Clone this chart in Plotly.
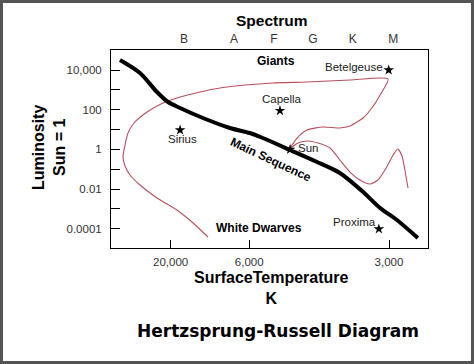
import math
import plotly.graph_objects as go

# ---- data (x: schematic temperature position 0-100, hot on the left; y: luminosity, Sun = 1) ----
main_seq_x = [2.84, 9.15, 14.5, 18.0, 21.8, 29.0, 37.5, 43.8, 47.9, 56.5, 65.0, 72.2, 79.2, 84.9, 90.2, 96.8]
main_seq_l = [3.19e4, 7070, 780, 244, 122, 38.2, 12.0, 6.70, 3.75, 0.933, 0.232, 0.0647, 0.00801, 0.00112, 2.77e-4, 3.44e-5]

track1_x = [30.6, 25.9, 20.8, 14.5, 9.15, 5.99, 4.42, 3.79, 4.42, 5.36, 7.26, 11.4, 16.4, 21.8, 28.1, 34.4,
            42.3, 51.1, 61.8, 75.4, 87.4, 84.9, 82.3, 79.5, 75.4, 72.2, 66.9, 61.8, 58.7, 56.5]
track1_l = [3.86e-5, 1.96e-4, 8.85e-4, 3.56e-3, 0.0161, 0.0513, 0.146, 0.414, 1.67, 6.70, 21.4, 76.6, 218, 437, 780, 1240,
            1750, 2210, 2480, 3130, 3520, 551, 122, 38.2, 15.1, 12.0, 13.4, 9.48, 3.75, 1.18]

track2_x = [56.8, 59.0, 62.1, 65.3, 69.1, 72.2, 75.4, 78.5, 81.7, 84.2, 86.8, 89.0, 90.5, 91.8, 92.7, 93.7]
track2_l = [1.18, 2.10, 2.65, 2.10, 1.18, 0.292, 0.0726, 0.0287, 0.0181, 0.0287, 0.116, 0.522, 1.05, 0.464, 0.0916, 0.0114]

star_names = ["Betelgeuse", "Capella", "Sirius", "Sun", "Proxima"]
star_x = [87.6, 53.3, 21.8, 56.5, 84.5]
star_l = [1.0e4, 89.1, 9.48, 1.0, 9.8e-5]

label_text = ["Betelgeuse", "Capella", "Sirius", "Sun", "Proxima"]
label_x = [76.8, 53.9, 22.4, 62.1, 76.7]
label_l = [1.42e4, 334, 3.23, 1.22, 2.2e-4]

region_text = ["Giants", "Main Sequence", "White Dwarves"]
region_x = [52.1, 50.6, 46.7]
region_l = [2.74e4, 0.30, 1.1e-4]

temp_ticks = [18.8, 43.6, 87.7]
temp_labels = ["20,000", "6,000", "3,000"]
lum_ticks = [1e4, 1e3, 1e2, 10, 1, 0.1, 0.01, 1e-3, 1e-4]
lum_labels = ["10,000", "", "100", "", "1", "", "0.01", "", "0.0001"]
spec_ticks = [23.0, 38.8, 51.4, 63.7, 76.3, 89.0]
spec_labels = ["B", "A", "F", "G", "K", "M"]

ARIAL = "Liberation Sans, Arial, sans-serif"
RED = "#b8505e"

fig = go.Figure()
fig.add_trace(go.Scatter(x=track1_x, y=track1_l, mode="lines",
                         line=dict(color=RED, width=1.1, shape="spline", smoothing=0.6), hoverinfo="skip"))
fig.add_trace(go.Scatter(x=track2_x, y=track2_l, mode="lines",
                         line=dict(color=RED, width=1.1, shape="spline", smoothing=0.6), hoverinfo="skip"))
fig.add_trace(go.Scatter(x=main_seq_x, y=main_seq_l, mode="lines",
                         line=dict(color="black", width=4, shape="spline", smoothing=0.8), hoverinfo="skip"))
fig.add_trace(go.Scatter(x=star_x, y=star_l, mode="markers", text=star_names,
                         marker=dict(symbol="star", size=8, color="black"), hoverinfo="text"))
fig.add_trace(go.Scatter(x=spec_ticks, y=[1] * len(spec_ticks), xaxis="x2", mode="markers",
                         marker=dict(opacity=0), hoverinfo="skip"))

annotations = []
for t, x, l in zip(label_text, label_x, label_l):
    annotations.append(dict(x=x, y=math.log10(l), xref="x", yref="y", text=t, showarrow=False,
                            font=dict(family=ARIAL, size=11.5, color="#222")))
angles = [0, 25, 0]
for t, x, l, a in zip(region_text, region_x, region_l, angles):
    annotations.append(dict(x=x, y=math.log10(l), xref="x", yref="y", text="<b>" + t + "</b>",
                            showarrow=False, textangle=a, font=dict(family=ARIAL, size=12, color="black")))

annotations += [
    dict(x=0.5079, y=1.1515, xref="paper", yref="paper", text="<b>Spectrum</b>", showarrow=False,
         font=dict(family=ARIAL, size=15.5, color="black"), xanchor="center", yanchor="middle"),
    dict(x=0.5063, y=-0.1995, xref="paper", yref="paper", text="<b>SurfaceTemperature<br>K</b>", showarrow=False,
         font=dict(family=ARIAL, size=16, color="black"), xanchor="center", yanchor="middle"),
    dict(x=-0.1956, y=0.5101, xref="paper", yref="paper", text="<b>Luminosity<br>Sun = 1</b>", showarrow=False,
         textangle=-90, font=dict(family=ARIAL, size=16, color="black"), xanchor="center", yanchor="middle"),
    dict(x=0.5268, y=-0.4192, xref="paper", yref="paper", text="<b>Hertzsprung-Russell Diagram</b>", showarrow=False,
         font=dict(family="DejaVu Sans", size=17, color="black"), xanchor="center", yanchor="middle"),
]

fig.update_layout(
    width=474, height=364,
    margin=dict(l=111, r=46, t=50, b=116),
    paper_bgcolor="white", plot_bgcolor="white",
    showlegend=False,
    xaxis=dict(range=[0, 100], tickvals=temp_ticks, ticktext=temp_labels, ticks="inside", ticklen=8,
               tickcolor="black", showline=True, linecolor="black", linewidth=1, mirror=True,
               showgrid=False, zeroline=False, tickfont=dict(family=ARIAL, size=11.5, color="#333"),
               ticklabelstandoff=3),
    xaxis2=dict(range=[0, 100], overlaying="x", side="top", anchor="y", tickvals=spec_ticks, ticktext=spec_labels,
                ticks="", showline=False, showgrid=False, zeroline=False,
                tickfont=dict(family=ARIAL, size=12, color="#333"), ticklabelstandoff=4),
    yaxis=dict(type="log", range=[-4.967, 5.008], tickvals=lum_ticks, ticktext=lum_labels, ticks="inside",
               ticklen=9, tickcolor="black", showline=True, linecolor="black", linewidth=1, mirror=True,
               showgrid=False, zeroline=False, tickfont=dict(family=ARIAL, size=11.5, color="#333"),
               ticklabelstandoff=6),
    annotations=annotations,
    shapes=[dict(type="rect", xref="paper", yref="paper", x0=-0.34543, x1=1.14038, y0=-0.57828, y1=1.24495,
                 line=dict(color="#555555", width=3))],
)

fig.write_html("out.html", config={"displayModeBar": False},
               post_script="document.body.style.margin='0';document.body.style.overflow='hidden';")
